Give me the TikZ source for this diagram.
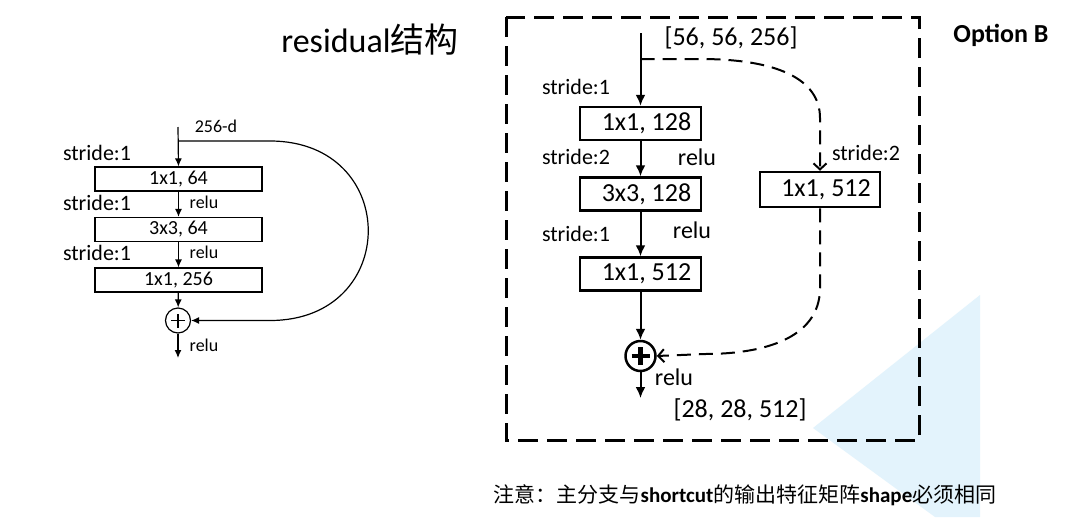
\documentclass[tikz,border=0pt]{standalone}
\usepackage{fontspec}
\setmainfont{Carlito}
\newfontfamily\cjkfont{Noto Sans CJK SC}
\usetikzlibrary{arrows.meta}
\newcommand{\fsz}[1]{\fontsize{#1}{#1}\selectfont}
\definecolor{bgblue}{HTML}{E3F3FC}

\tikzset{
  lbox/.style={draw, line width=1.2pt, minimum width=167pt, minimum height=24pt, inner sep=0pt, font=\fsz{20}},
  rbox/.style={draw, line width=2.5pt, minimum width=121pt, minimum height=33pt, inner sep=0pt, font=\fsz{26}},
  lflow/.style={line width=1.2pt, -{Latex[length=8pt,width=7pt]}},
  rflow/.style={line width=2pt, -{Latex[length=11pt,width=10pt]}},
  rshort/.style={line width=2pt, dash pattern=on 14pt off 8pt, -{Straight Barb[length=6pt,width=13pt,line width=2pt]}},
}

\begin{document}
\begin{tikzpicture}[x=1pt, y=-1pt]
    \fill[white] (0,0) rectangle (1076,517);
    \useasboundingbox (0,0) rectangle (1076,517);
    \fill[bgblue] (980,295) -- (813,428) -- (935,517) -- (980,517) -- cycle;

    % titles
    \node[font=\fsz{34}] (title) at (370,40) {residual{\cjkfont 结构}};
    \node[font=\bfseries\fsz{26}] (opt) at (1001,35) {Option B};
    \node[font=\fsz{21}] (note) at (745,495) {\cjkfont 注意：主分支与\textbf{\rmfamily shortcut}的输出特征矩阵\textbf{\rmfamily shape}必须相同};

    % left block
    \coordinate (lin) at (178,127);
    \coordinate (lsplit) at (178,141);
    \coordinate (lout) at (178,358);
    \node[lbox] (l1) at (178.5,179) {1x1, 64};
    \node[lbox] (l2) at (178.5,229.5) {3x3, 64};
    \node[lbox] (l3) at (178.5,280) {1x1, 256};
    \node[circle, draw, line width=1.2pt, minimum size=25pt, inner sep=0pt] (lplus) at (178,320.5) {};
    \draw[line width=1.2pt] ([xshift=-7pt]lplus.center) -- ([xshift=7pt]lplus.center);
    \draw[line width=1.2pt] ([yshift=-7pt]lplus.center) -- ([yshift=7pt]lplus.center);
    \draw[lflow] (lin) -- (l1.north);
    \draw[lflow] (l1) -- (l2);
    \draw[lflow] (l2) -- (l3);
    \draw[lflow] (l3) -- (lplus);
    \draw[lflow] (lplus) -- (lout);
    \draw[lflow] (lsplit) -- (270,141) .. controls (401,141) and (401,320.5) .. (270,320.5) -- (lplus.east);
    \node[font=\fsz{18}] (ldim) at (216,126) {256-d};
    \node[font=\fsz{22}] (ls1) at (97,153) {stride:1};
    \node[font=\fsz{22}] (ls2) at (97,203) {stride:1};
    \node[font=\fsz{22}] (ls3) at (97,253) {stride:1};
    \node[font=\fsz{18}] (lr1) at (204,202) {relu};
    \node[font=\fsz{18}] (lr2) at (204,252) {relu};
    \node[font=\fsz{18}] (lr3) at (204,345) {relu};

    % right block, option B
    \draw[line width=3pt, dash pattern=on 20pt off 9pt] (506,17) rectangle (919,440);
    \coordinate (rin) at (640.5,33);
    \coordinate (rsplit) at (640.5,59);
    \coordinate (rout) at (640.5,398);
    \node[rbox] (r1) at (640.5,123.5) {\hspace*{12pt}1x1, 128};
    \node[rbox] (r2) at (640.5,194) {\hspace*{12pt}3x3, 128};
    \node[rbox] (r3) at (640.5,274) {\hspace*{12pt}1x1, 512};
    \node[rbox, minimum width=120pt, minimum height=35pt] (rs) at (820,189.5) {\hspace*{12pt}1x1, 512};
    \node[circle, draw, line width=2.5pt, minimum size=30pt, inner sep=0pt] (rplus) at (640.5,356) {};
    \draw[line width=4.5pt] ([xshift=-9pt]rplus.center) -- ([xshift=9pt]rplus.center);
    \draw[line width=4.5pt] ([yshift=-9pt]rplus.center) -- ([yshift=9pt]rplus.center);
    \draw[rflow] (rin) -- (r1.north);
    \draw[rflow] (r1) -- (r2);
    \draw[rflow] (r2) -- (r3);
    \draw[rflow] (r3) -- (rplus);
    \draw[rflow] (rplus) -- (rout);
    \draw[rshort] (rsplit) -- (700,59) .. controls (775,59) and (820,78) .. (820,118) -- (rs.north);
    \draw[rshort] (rs.south) -- (820,288) .. controls (820,340) and (760,354) .. (705,354) -- (rplus.east);
    \node[font=\fsz{26}] (rdimin) at (731,38) {[56, 56, 256]};
    \node[font=\fsz{26}] (rdimout) at (740,410) {[28, 28, 512]};
    \node[font=\fsz{22}] (rs1) at (576,87) {stride:1};
    \node[font=\fsz{22}] (rs2) at (576,157) {stride:2};
    \node[font=\fsz{22}] (rs3) at (576,234) {stride:1};
    \node[font=\fsz{22}] (rss) at (866,153) {stride:2};
    \node[font=\fsz{24}] (rr1) at (697,157) {relu};
    \node[font=\fsz{24}] (rr2) at (692,230) {relu};
    \node[font=\fsz{24}] (rr3) at (674,377) {relu};
\end{tikzpicture}
\end{document}
